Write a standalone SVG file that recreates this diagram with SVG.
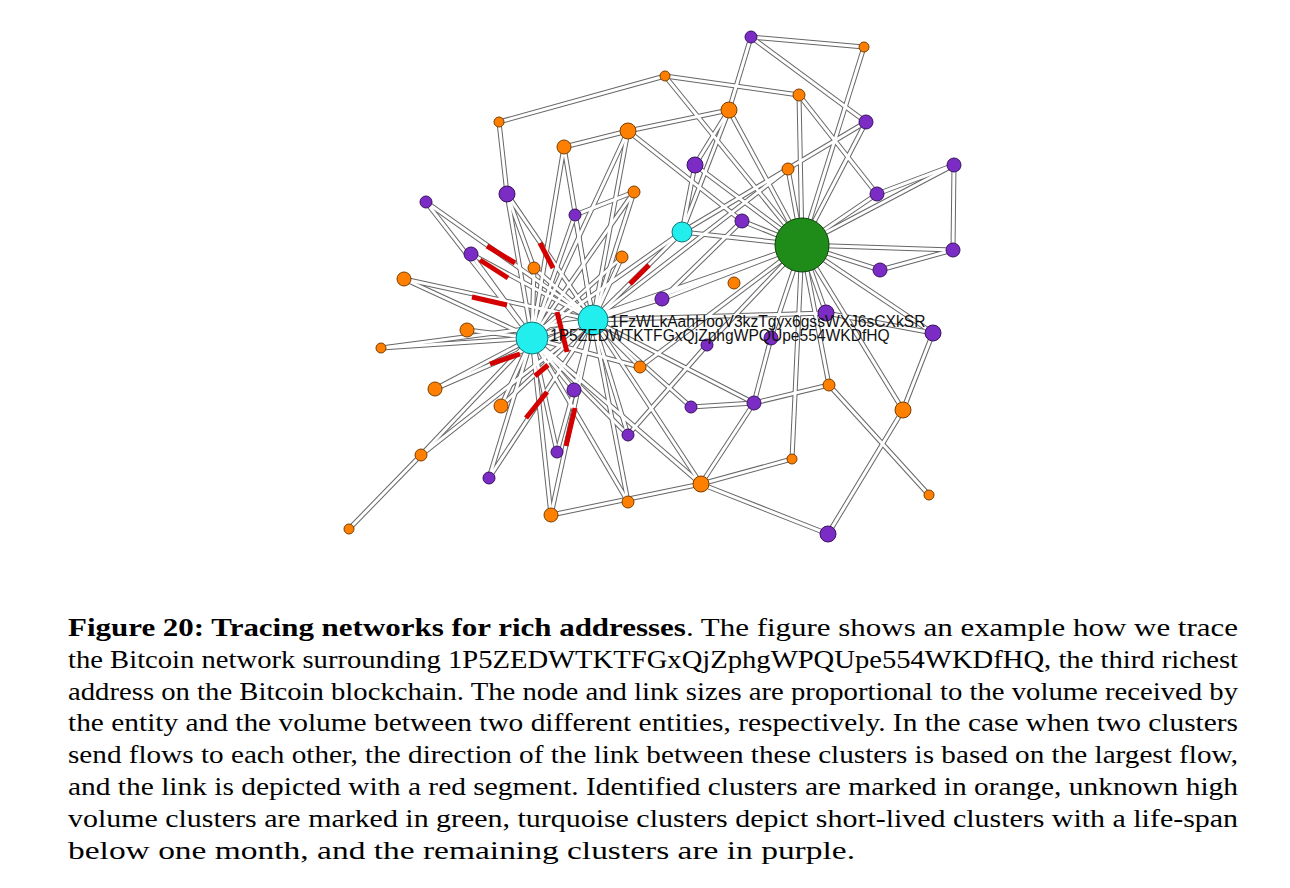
<svg xmlns="http://www.w3.org/2000/svg" xmlns:xlink="http://www.w3.org/1999/xlink" width="1290" height="888" viewBox="0 0 1290 888">
<style>
.o{fill:#ff8000;stroke:#7a3d00;stroke-width:1}
.p{fill:#7b2cc4;stroke:#3a1260;stroke-width:1}
.c{fill:#22eeee;stroke:#117777;stroke-width:1}
.g{fill:#1f8c1a;stroke:#0c400a;stroke-width:1}
.outer{stroke:#666;stroke-width:5;fill:none}
.inner{stroke:#fff;stroke-width:3;fill:none}
.red{stroke:#d40000;stroke-width:5;stroke-linecap:butt}
.lbl{font-family:"Liberation Sans",Arial,sans-serif;font-size:15.6px;fill:#111}
.cap{font-family:"Liberation Serif","Times New Roman",serif;font-size:25px;fill:#000}
</style>
<defs>
<g id="E">
<line x1="499" y1="122" x2="665" y2="76"/><line x1="665" y1="76" x2="799" y2="95"/><line x1="665" y1="76" x2="802" y2="245"/>
<line x1="751" y1="37" x2="864" y2="47"/><line x1="751" y1="37" x2="866" y2="122"/><line x1="751" y1="37" x2="729" y2="110"/>
<line x1="864" y1="47" x2="802" y2="245"/><line x1="799" y1="95" x2="802" y2="245"/><line x1="799" y1="95" x2="877" y2="194"/>
<line x1="628" y1="131" x2="729" y2="110"/><line x1="729" y1="110" x2="802" y2="245"/><line x1="729" y1="110" x2="682" y2="232"/><line x1="729" y1="110" x2="695" y2="165"/>
<line x1="628" y1="131" x2="564" y2="147"/><line x1="628" y1="131" x2="593" y2="320"/><line x1="628" y1="131" x2="742" y2="221"/><line x1="628" y1="131" x2="532" y2="338"/>
<line x1="866" y1="122" x2="682" y2="232"/><line x1="866" y1="122" x2="802" y2="245"/><line x1="954" y1="165" x2="877" y2="194"/><line x1="954" y1="165" x2="953" y2="250"/><line x1="954" y1="165" x2="802" y2="245"/>
<line x1="953" y1="250" x2="802" y2="245"/><line x1="877" y1="194" x2="802" y2="245"/><line x1="788" y1="169" x2="802" y2="245"/><line x1="788" y1="169" x2="593" y2="320"/>
<line x1="695" y1="165" x2="682" y2="232"/><line x1="695" y1="165" x2="802" y2="245"/><line x1="742" y1="221" x2="802" y2="245"/><line x1="682" y1="232" x2="802" y2="245"/>
<line x1="880" y1="270" x2="802" y2="245"/><line x1="880" y1="270" x2="953" y2="250"/>
<line x1="507" y1="194" x2="499" y2="122"/><line x1="507" y1="194" x2="532" y2="338"/><line x1="507" y1="194" x2="593" y2="320"/><line x1="507" y1="194" x2="534" y2="268"/>
<line x1="426" y1="202" x2="532" y2="338"/><line x1="426" y1="202" x2="593" y2="320"/><line x1="471" y1="254" x2="532" y2="338"/><line x1="471" y1="254" x2="593" y2="320"/>
<line x1="564" y1="147" x2="532" y2="338"/><line x1="564" y1="147" x2="593" y2="320"/><line x1="634" y1="192" x2="575" y2="215"/><line x1="634" y1="192" x2="532" y2="338"/><line x1="634" y1="192" x2="593" y2="320"/>
<line x1="575" y1="215" x2="532" y2="338"/><line x1="575" y1="215" x2="593" y2="320"/><line x1="622" y1="257" x2="532" y2="338"/><line x1="622" y1="257" x2="593" y2="320"/>
<line x1="534" y1="268" x2="532" y2="338"/><line x1="534" y1="268" x2="593" y2="320"/><line x1="682" y1="232" x2="532" y2="338"/><line x1="682" y1="232" x2="593" y2="320"/>
<line x1="404" y1="279" x2="532" y2="338"/><line x1="404" y1="279" x2="593" y2="320"/><line x1="467" y1="330" x2="532" y2="338"/><line x1="381" y1="348" x2="532" y2="338"/><line x1="381" y1="348" x2="593" y2="320"/>
<line x1="662" y1="299" x2="532" y2="338"/><line x1="662" y1="299" x2="742" y2="221"/><line x1="662" y1="299" x2="802" y2="245"/><line x1="593" y1="320" x2="532" y2="338"/>
<line x1="593" y1="320" x2="802" y2="245"/><line x1="532" y1="338" x2="802" y2="245"/><line x1="593" y1="320" x2="826" y2="313"/><line x1="826" y1="313" x2="933" y2="333"/>
<line x1="435" y1="389" x2="532" y2="338"/><line x1="435" y1="389" x2="593" y2="320"/><line x1="501" y1="406" x2="532" y2="338"/><line x1="501" y1="406" x2="593" y2="320"/>
<line x1="574" y1="390" x2="593" y2="320"/><line x1="574" y1="390" x2="532" y2="338"/><line x1="640" y1="367" x2="593" y2="320"/><line x1="640" y1="367" x2="532" y2="338"/>
<line x1="421" y1="455" x2="532" y2="338"/><line x1="421" y1="455" x2="593" y2="320"/><line x1="349" y1="529" x2="421" y2="455"/>
<line x1="489" y1="478" x2="532" y2="338"/><line x1="489" y1="478" x2="593" y2="320"/><line x1="557" y1="452" x2="532" y2="338"/><line x1="557" y1="452" x2="574" y2="390"/>
<line x1="551" y1="515" x2="532" y2="338"/><line x1="551" y1="515" x2="593" y2="320"/><line x1="628" y1="435" x2="593" y2="320"/><line x1="628" y1="435" x2="532" y2="338"/><line x1="628" y1="435" x2="707" y2="345"/>
<line x1="628" y1="502" x2="532" y2="338"/><line x1="628" y1="502" x2="593" y2="320"/><line x1="701" y1="484" x2="593" y2="320"/><line x1="701" y1="484" x2="532" y2="338"/>
<line x1="691" y1="407" x2="593" y2="320"/><line x1="691" y1="407" x2="754" y2="403"/><line x1="754" y1="403" x2="829" y2="385"/><line x1="754" y1="403" x2="771" y2="338"/><line x1="754" y1="403" x2="593" y2="320"/>
<line x1="701" y1="484" x2="754" y2="403"/><line x1="701" y1="484" x2="792" y2="459"/><line x1="701" y1="484" x2="828" y2="534"/><line x1="551" y1="515" x2="701" y2="484"/>
<line x1="792" y1="459" x2="802" y2="245"/><line x1="829" y1="385" x2="929" y2="495"/><line x1="829" y1="385" x2="802" y2="245"/><line x1="828" y1="534" x2="903" y2="410"/><line x1="903" y1="410" x2="933" y2="333"/><line x1="903" y1="410" x2="802" y2="245"/>
<line x1="771" y1="338" x2="802" y2="245"/><line x1="826" y1="313" x2="802" y2="245"/><line x1="707" y1="345" x2="802" y2="245"/><line x1="933" y1="333" x2="802" y2="245"/><line x1="640" y1="367" x2="802" y2="245"/>
</g>
</defs>
<rect width="1290" height="888" fill="#fff"/>
<g id="connectors">
<use xlink:href="#E" class="outer"/>
<use xlink:href="#E" class="inner"/>
<g id="red-segments">
<line class="red" x1="487" y1="246" x2="515" y2="263"/><line class="red" x1="540" y1="243" x2="553" y2="268"/>
<line class="red" x1="472" y1="297" x2="507" y2="305"/><line class="red" x1="557" y1="312" x2="567" y2="352"/>
<line class="red" x1="630" y1="284" x2="649" y2="265"/><line class="red" x1="490" y1="364" x2="520" y2="354"/>
<line class="red" x1="535" y1="376" x2="548" y2="365"/><line class="red" x1="526" y1="418" x2="547" y2="392"/>
<line class="red" x1="566" y1="446" x2="575" y2="408"/><line class="red" x1="480" y1="260" x2="508" y2="278"/>
</g>
</g>
<g id="nodes">
<circle id="n1" class="p" cx="751" cy="37" r="6"/><circle id="n2" class="o" cx="864" cy="47" r="5"/>
<circle id="n3" class="o" cx="665" cy="76" r="5"/><circle id="n4" class="o" cx="799" cy="95" r="6"/>
<circle id="n5" class="o" cx="499" cy="122" r="5"/><circle id="n6" class="o" cx="729" cy="110" r="8"/>
<circle id="n7" class="o" cx="628" cy="131" r="8"/><circle id="n8" class="p" cx="866" cy="122" r="7"/>
<circle id="n9" class="o" cx="564" cy="147" r="7"/><circle id="n10" class="p" cx="695" cy="165" r="8"/>
<circle id="n11" class="o" cx="788" cy="169" r="6"/><circle id="n12" class="p" cx="954" cy="165" r="7"/>
<circle id="n13" class="p" cx="877" cy="194" r="7"/><circle id="n14" class="o" cx="634" cy="192" r="6"/>
<circle id="n15" class="p" cx="507" cy="194" r="8"/><circle id="n16" class="p" cx="426" cy="202" r="6"/>
<circle id="n17" class="p" cx="575" cy="215" r="6"/><circle id="n18" class="p" cx="742" cy="221" r="7"/>
<circle id="n19" class="c" cx="682" cy="232" r="10"/><circle id="n20" class="g" cx="802" cy="245" r="27"/>
<circle id="n21" class="p" cx="953" cy="250" r="7"/><circle id="n22" class="p" cx="471" cy="254" r="7"/>
<circle id="n23" class="o" cx="622" cy="257" r="6"/><circle id="n24" class="o" cx="534" cy="268" r="6"/>
<circle id="n25" class="p" cx="880" cy="270" r="7"/><circle id="n26" class="o" cx="404" cy="279" r="7"/>
<circle id="n27" class="o" cx="734" cy="283" r="6"/><circle id="n28" class="p" cx="662" cy="299" r="7"/>
<circle id="n29" class="o" cx="467" cy="330" r="7"/><circle id="n30" class="c" cx="593" cy="320" r="15"/>
<circle id="n31" class="c" cx="532" cy="338" r="16"/><circle id="n32" class="o" cx="381" cy="348" r="5"/>
<circle id="n33" class="p" cx="826" cy="313" r="8"/><circle id="n34" class="p" cx="933" cy="333" r="8"/>
<circle id="n35" class="p" cx="707" cy="345" r="6"/><circle id="n36" class="p" cx="771" cy="338" r="7"/>
<circle id="n37" class="o" cx="640" cy="367" r="6"/><circle id="n38" class="o" cx="435" cy="389" r="7"/>
<circle id="n39" class="p" cx="574" cy="390" r="7"/><circle id="n40" class="o" cx="501" cy="406" r="7"/>
<circle id="n41" class="p" cx="691" cy="407" r="6"/><circle id="n42" class="p" cx="754" cy="403" r="7"/>
<circle id="n43" class="o" cx="829" cy="385" r="6"/><circle id="n44" class="o" cx="903" cy="410" r="8"/>
<circle id="n45" class="p" cx="628" cy="435" r="6"/><circle id="n46" class="o" cx="421" cy="455" r="6"/>
<circle id="n47" class="p" cx="557" cy="452" r="6"/><circle id="n48" class="o" cx="792" cy="459" r="5"/>
<circle id="n49" class="p" cx="489" cy="478" r="6"/><circle id="n50" class="o" cx="701" cy="484" r="8"/>
<circle id="n51" class="o" cx="628" cy="502" r="6"/><circle id="n52" class="o" cx="929" cy="495" r="5"/>
<circle id="n53" class="o" cx="551" cy="515" r="7"/><circle id="n54" class="p" cx="828" cy="534" r="8"/>
<circle id="n55" class="o" cx="349" cy="529" r="5"/>
</g>
<g id="labels">
<text class="lbl" x="610" y="327">1FzWLkAahHooV3kzTgyx6gssWXJ6sCXkSR</text>
<text class="lbl" x="550" y="341">1P5ZEDWTKTFGxQjZphgWPQUpe554WKDfHQ</text>
</g>
<g id="caption" class="cap">
<text x="68" y="636" textLength="1170" lengthAdjust="spacingAndGlyphs"><tspan font-weight="bold">Figure 20: Tracing networks for rich addresses</tspan>. The figure shows an example how we trace</text>
<text x="68" y="668" textLength="1170" lengthAdjust="spacingAndGlyphs">the Bitcoin network surrounding 1P5ZEDWTKTFGxQjZphgWPQUpe554WKDfHQ, the third richest</text>
<text x="68" y="700" textLength="1170" lengthAdjust="spacingAndGlyphs">address on the Bitcoin blockchain. The node and link sizes are proportional to the volume received by</text>
<text x="68" y="731" textLength="1170" lengthAdjust="spacingAndGlyphs">the entity and the volume between two different entities, respectively. In the case when two clusters</text>
<text x="68" y="763" textLength="1170" lengthAdjust="spacingAndGlyphs">send flows to each other, the direction of the link between these clusters is based on the largest flow,</text>
<text x="68" y="795" textLength="1170" lengthAdjust="spacingAndGlyphs">and the link is depicted with a red segment. Identified clusters are marked in orange, unknown high</text>
<text x="68" y="827" textLength="1170" lengthAdjust="spacingAndGlyphs">volume clusters are marked in green, turquoise clusters depict short-lived clusters with a life-span</text>
<text x="68" y="859" textLength="787" lengthAdjust="spacingAndGlyphs">below one month, and the remaining clusters are in purple.</text>
</g>
</svg>
